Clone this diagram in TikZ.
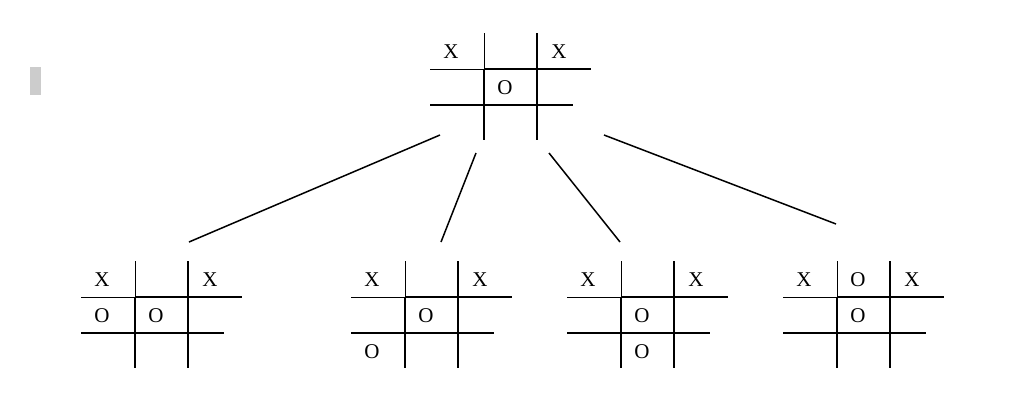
\documentclass[tikz,border=0pt]{standalone}
\usepackage{fontspec}
\setmainfont{Liberation Serif}
\usetikzlibrary{positioning}

\tikzset{
  thinline/.style = {line width=1pt},
  thickline/.style = {line width=2pt},
  edge/.style = {line width=1.5pt},
  markcell/.style = {inner sep=0pt, font=\fontsize{21}{24}\selectfont}
}

% grid of one board, drawn from its top left corner
\newcommand{\board}{%
  \draw[thinline] (0,36) -- (54,36);
  \draw[thinline] (54,0) -- (54,36);
  \draw[thickline] (54,36) -- (161,36);
  \draw[thickline] (0,72) -- (143,72);
  \draw[thickline] (54,36) -- (54,107);
  \draw[thickline] (107,0) -- (107,107);
}

\begin{document}
\begin{tikzpicture}[x=1pt,y=-1pt]
	\useasboundingbox (0,0) rectangle (1018,418);
	\fill[black!20] (30,67) rectangle (41,95);
	% root board
	\begin{scope}[shift={(430,33)}]
		\board
		\node[markcell] (r11) at (21,19) {X};
		\node[markcell] (r13) at (129,19) {X};
		\node[markcell] (r22) at (75,55) {O};
		\coordinate (r-a) at (10,102);
		\coordinate (r-b) at (46,120);
		\coordinate (r-c) at (119,120);
		\coordinate (r-d) at (174,102);
	\end{scope}
	% children
	\begin{scope}[shift={(81,261)}]
		\board
		\node[markcell] (a11) at (21,19) {X};
		\node[markcell] (a13) at (129,19) {X};
		\node[markcell] (a21) at (21,55) {O};
		\node[markcell] (a22) at (75,55) {O};
		\coordinate (a-top) at (108,-19);
	\end{scope}
	\begin{scope}[shift={(351,261)}]
		\board
		\node[markcell] (b11) at (21,19) {X};
		\node[markcell] (b13) at (129,19) {X};
		\node[markcell] (b22) at (75,55) {O};
		\node[markcell] (b31) at (21,91) {O};
		\coordinate (b-top) at (90,-19);
	\end{scope}
	\begin{scope}[shift={(567,261)}]
		\board
		\node[markcell] (c11) at (21,19) {X};
		\node[markcell] (c13) at (129,19) {X};
		\node[markcell] (c22) at (75,55) {O};
		\node[markcell] (c32) at (75,91) {O};
		\coordinate (c-top) at (53,-19);
	\end{scope}
	\begin{scope}[shift={(783,261)}]
		\board
		\node[markcell] (d11) at (21,19) {X};
		\node[markcell] (d12) at (75,19) {O};
		\node[markcell] (d13) at (129,19) {X};
		\node[markcell] (d22) at (75,55) {O};
		\coordinate (d-top) at (53,-37);
	\end{scope}
	\draw[edge] (r-a)--(a-top);
	\draw[edge] (r-b)--(b-top);
	\draw[edge] (r-c)--(c-top);
	\draw[edge] (r-d)--(d-top);
\end{tikzpicture}
\end{document}
